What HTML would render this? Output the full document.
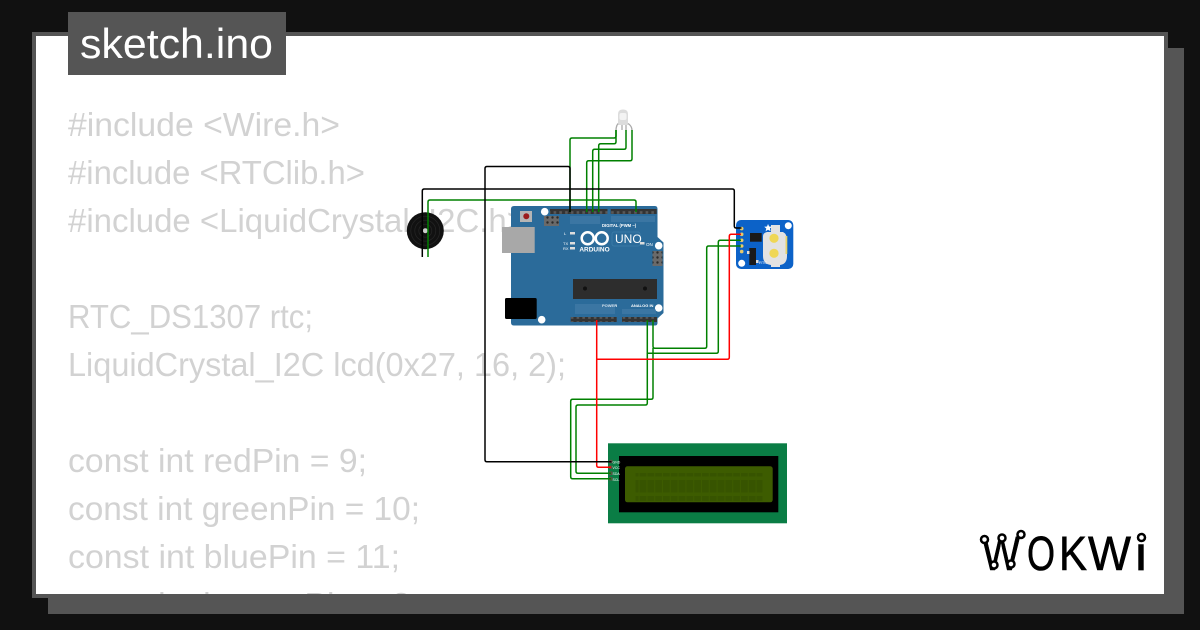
<!DOCTYPE html>
<html>
<head>
<meta charset="utf-8">
<style>
html,body{margin:0;padding:0;width:1200px;height:630px;overflow:hidden;background:#111}
svg{display:block}
.code{font-family:"Liberation Sans",sans-serif;font-size:33.5px;fill:#d2d2d2}
.w{fill:none;stroke-width:1.5;stroke-linejoin:round}
.lb{font-family:"Liberation Sans",sans-serif;fill:#fff}
</style>
</head>
<body>
<svg width="1200" height="630" viewBox="0 0 1200 630" xmlns="http://www.w3.org/2000/svg">
<defs>
<clipPath id="card"><rect x="36" y="36" width="1128" height="558"/></clipPath>
<pattern id="hdr" width="5.75" height="5" patternUnits="userSpaceOnUse"><rect width="5.75" height="5" fill="#333"/><rect x="1.6" y="1.2" width="2.6" height="2.6" fill="#5a5a5a"/></pattern>
<pattern id="p2" width="5" height="5" patternUnits="userSpaceOnUse"><rect width="5" height="5" fill="#6a6a6a"/><circle cx="2.500" cy="2.500" r="1.200" fill="#2b2b2b"/></pattern>
<pattern id="cells" width="7.800" height="16" patternUnits="userSpaceOnUse"><rect x="0" y="0" width="6.800" height="12.500" fill="#375400"/></pattern>
</defs>

<rect x="48" y="48" width="1136" height="566" fill="#555"/>
<rect x="32" y="32" width="1136" height="566" fill="#555"/>
<rect x="36" y="36" width="1128" height="558" fill="#fff"/>

<g clip-path="url(#card)" class="code">
<text x="68" y="136" textLength="272" lengthAdjust="spacingAndGlyphs">#include &lt;Wire.h&gt;</text>
<text x="68" y="184" textLength="297" lengthAdjust="spacingAndGlyphs">#include &lt;RTClib.h&gt;</text>
<text x="68" y="232" textLength="458" lengthAdjust="spacingAndGlyphs">#include &lt;LiquidCrystal_I2C.h&gt;</text>
<text x="68" y="328" textLength="245" lengthAdjust="spacingAndGlyphs">RTC_DS1307 rtc;</text>
<text x="68" y="376" textLength="498" lengthAdjust="spacingAndGlyphs">LiquidCrystal_I2C lcd(0x27, 16, 2);</text>
<text x="68" y="472" textLength="299" lengthAdjust="spacingAndGlyphs">const int redPin = 9;</text>
<text x="68" y="520" textLength="352" lengthAdjust="spacingAndGlyphs">const int greenPin = 10;</text>
<text x="68" y="568" textLength="332" lengthAdjust="spacingAndGlyphs">const int bluePin = 11;</text>
<text x="68" y="616" textLength="352" lengthAdjust="spacingAndGlyphs">const int buzzerPin = 8;</text>
</g>

<rect x="68" y="12" width="218" height="63" fill="#555"/>
<text x="80" y="58" class="lb" font-size="42" textLength="193" lengthAdjust="spacingAndGlyphs">sketch.ino</text>

<!-- Buzzer -->
<circle cx="425.300" cy="230.700" r="18.500" fill="#111"/>
<circle cx="425.300" cy="230.700" r="14.500" fill="none" stroke="#262626" stroke-width=".7"/>
<circle cx="425.300" cy="230.700" r="10.500" fill="none" stroke="#262626" stroke-width=".7"/>
<circle cx="425.300" cy="230.700" r="6.500" fill="none" stroke="#262626" stroke-width=".7"/>
<circle cx="425.300" cy="230.700" r="2.500" fill="#ccc"/>

<!-- Arduino -->
<path d="M514,206 H655 Q657.500,206 657.500,209 V237 L663.500,242.500 V313 L657.500,318.500 V323 Q657.500,325.500 655,325.500 H514 Q511,325.500 511,322.500 V209 Q511,206 514,206 Z" fill="#2b6b9a"/>
<rect x="502" y="227" width="32.700" height="26" fill="#a8a8a8"/>
<rect x="505" y="298" width="31.700" height="21" rx="1.500" fill="#000"/>
<rect x="520" y="211" width="12" height="11" fill="#b5b5b5"/>
<circle cx="526.300" cy="216.300" r="3" fill="#9b1c1c"/>
<circle cx="544.700" cy="211.700" r="3.800" fill="#fff"/>
<circle cx="541.700" cy="319.700" r="3.800" fill="#fff"/>
<circle cx="658.700" cy="245.700" r="3.800" fill="#fff"/>
<circle cx="658.700" cy="308" r="3.800" fill="#fff"/>
<rect x="550" y="209" width="57.500" height="5" fill="url(#hdr)"/>
<rect x="610.700" y="209" width="46" height="5" fill="url(#hdr)"/>
<rect x="570.700" y="317" width="46" height="5" fill="url(#hdr)"/>
<rect x="622" y="317" width="35" height="5" fill="url(#hdr)"/>
<rect x="544" y="216" width="15" height="10" fill="url(#p2)"/>
<rect x="652.500" y="251" width="10" height="15" fill="url(#p2)"/>
<rect x="573" y="279" width="84" height="20" fill="#2d2d2d"/>
<circle cx="585" cy="288.500" r="2" fill="#111"/>
<circle cx="645" cy="288.500" r="2" fill="#111"/>
<circle cx="587.700" cy="238.300" r="6" fill="none" stroke="#fff" stroke-width="2.500"/>
<circle cx="601.700" cy="238.300" r="6" fill="none" stroke="#fff" stroke-width="2.500"/>
<text x="594.500" y="251.500" text-anchor="middle" class="lb" font-size="6.500" font-weight="bold">ARDUINO</text>
<rect x="612" y="232" width="28" height="14" rx="2" fill="none" stroke="#3f80ac" stroke-width=".7"/>
<text x="615" y="243" class="lb" font-size="12">UNO</text>
<text x="646" y="246" class="lb" font-size="4.500">ON</text>
<rect x="640" y="242" width="4.500" height="2.500" fill="#ddd"/>
<rect x="570" y="232" width="5" height="2.500" fill="#ddd"/>
<rect x="570" y="242" width="5" height="2.500" fill="#ddd"/>
<rect x="570" y="247" width="5" height="2.500" fill="#ddd"/>
<text x="564" y="235" class="lb" font-size="4">L</text>
<text x="563" y="245" class="lb" font-size="4">TX</text>
<text x="563" y="250" class="lb" font-size="4">RX</text>
<text x="602" y="227" class="lb" font-size="4.200" font-weight="bold">DIGITAL (PWM ~)</text>
<text x="602" y="307" class="lb" font-size="4" font-weight="bold">POWER</text>
<text x="631" y="307" class="lb" font-size="4" font-weight="bold">ANALOG IN</text>
<rect x="575" y="304" width="40" height="10" fill="#5f93b8" opacity=".3"/>
<rect x="622" y="309" width="34" height="5" fill="#5f93b8" opacity=".3"/>
<rect x="570" y="216" width="30" height="8" fill="#5f93b8" opacity=".3"/>
<rect x="611" y="216" width="44" height="6" fill="#5f93b8" opacity=".3"/>

<!-- RTC -->
<rect x="736" y="220" width="57.300" height="49" rx="5" fill="#0c62c8"/>
<path d="M771,225 h9 v7 h3 q4,2 4,8 v16 q0,8 -7,9 v2 h-9 v-2 q-8,-1 -8,-9 v-20 q0,-3 4,-4 h4 z" fill="#e2e2e2"/>
<rect x="785.500" y="236" width="1.800" height="18" fill="#e8d36a"/>
<circle cx="774" cy="238.300" r="4.600" fill="#efd755"/>
<circle cx="774" cy="253.300" r="4.600" fill="#efd755"/>
<circle cx="788.300" cy="225.700" r="3.500" fill="#fff"/>
<circle cx="741.700" cy="263.300" r="3.500" fill="#fff"/>
<path d="M768,224 l1.200,2.500 2.800,.2 -2.100,1.800 .7,2.700 -2.600,-1.400 -2.400,1.400 .7,-2.700 -2.100,-1.800 2.800,-.2 z" fill="#fff"/>
<rect x="750" y="233" width="11.700" height="8.700" fill="#1a1a1a"/>
<rect x="749.300" y="248" width="6.700" height="17" fill="#1a1a1a"/>
<rect x="747" y="251" width="2.500" height="3" fill="#ddd"/>
<rect x="756" y="260" width="2.500" height="3" fill="#ddd"/>
<text x="759" y="264" class="lb" font-size="4">RTC</text>
<g fill="#e7c96a"><circle cx="741.700" cy="228.600" r="1.800"/><circle cx="741.700" cy="234.300" r="1.800"/><circle cx="741.700" cy="240.300" r="1.800"/><circle cx="741.700" cy="246" r="1.800"/><circle cx="741.700" cy="251.600" r="1.800"/></g>

<!-- LCD -->
<rect x="608" y="443.300" width="179" height="80" fill="#0a7d45"/>
<rect x="619" y="456" width="159.300" height="56.300" fill="#000"/>
<rect x="625" y="466.300" width="147.700" height="36" rx="2.500" fill="#3d5c00"/>
<rect x="635.500" y="473" width="127" height="28" fill="url(#cells)"/>
<g fill="#554"><rect x="609" y="459.800" width="3.500" height="3.500"/><rect x="609" y="465.500" width="3.500" height="3.500"/><rect x="609" y="471.500" width="3.500" height="3.500"/><rect x="609" y="477" width="3.500" height="3.500"/></g>
<g class="lb" font-size="3.500"><text x="612.500" y="463.500">GND</text><text x="612.500" y="469">VCC</text><text x="612.500" y="475">SDA</text><text x="612.500" y="481">SCL</text></g>

<!-- LED -->
<path d="M618,125 V114 Q618,109.500 623,109.500 Q628,109.500 628,114 V125 Z" fill="#dcdcdc"/>
<rect x="619.500" y="113" width="7" height="7" rx="2" fill="#f3f3f3"/>
<path d="M618,123.500 Q616,126 616,130.500 M622,125 V130 M626,125 V130.500 M628,123.500 Q632,126 632,130.500" fill="none" stroke="#aaa" stroke-width="1.300"/>

<!-- Wires -->
<g class="w" stroke="#008000">
<path d="M570,212 V140 Q570,138 572,138 H614 Q616,138 616,136 V130"/>
<path d="M586.700,212 V162.700 Q586.700,160.700 588.700,160.700 H630 Q632,160.700 632,158.700 V130"/>
<path d="M592.700,212 V151.300 Q592.700,149.300 594.700,149.300 H624 Q626,149.300 626,147.300 V130"/>
<path d="M598.700,212 V145.700 Q598.700,143.700 600.700,143.700 H614 Q616,143.700 616,141.700 V130"/>
<path d="M428,257 V202 Q428,200 430,200 H634 Q636,200 636,202 V212"/>
<path d="M647.300,320 V353.300 H716.300 Q718.300,353.300 718.300,351.300 V242.300 Q718.300,240.300 720.300,240.300 H741"/>
<path d="M653,320 V346.300 Q653,348.300 655,348.300 H704.700 Q706.700,348.300 706.700,346.300 V248 Q706.700,246 708.700,246 H741"/>
<path d="M653,348 V397.300 Q653,399.300 651,399.300 H572.700 Q570.700,399.300 570.700,401.300 V476.700 Q570.700,478.700 572.700,478.700 H611"/>
<path d="M647.300,353 V403 Q647.300,405 645.300,405 H578 Q576,405 576,407 V471.300 Q576,473.300 578,473.300 H611"/>
</g>
<g class="w" stroke="#f00">
<path d="M596.700,320 V465.300 Q596.700,467.300 598.700,467.300 H611"/>
<path d="M596.700,359.300 H727.300 Q729.300,359.300 729.300,357.300 V236.300 Q729.300,234.300 731.300,234.300 H741"/>
</g>
<g class="w" stroke="#000">
<path d="M570,212 V168.500 Q570,166.500 568,166.500 H487 Q485,166.500 485,168.500 V459.700 Q485,461.700 487,461.700 H611.500"/>
<path d="M422.300,257 V191 Q422.300,189 424.300,189 H732.300 Q734.300,189 734.300,191 V226 Q734.300,228 736.300,228 H741.500"/>
</g>

<!-- Logo -->
<g font-family="'Liberation Sans',sans-serif" font-size="48" fill="#000" stroke="#000" stroke-width=".6">
<text x="982" y="570" textLength="38" lengthAdjust="spacingAndGlyphs">W</text>
<text x="1027" y="570" textLength="28" lengthAdjust="spacingAndGlyphs">O</text>
<text x="1059" y="570" textLength="28" lengthAdjust="spacingAndGlyphs">K</text>
<text x="1088" y="570" textLength="43" lengthAdjust="spacingAndGlyphs">W</text>
<text x="1135" y="570" textLength="12" lengthAdjust="spacingAndGlyphs">i</text>
</g>
<g fill="#fff" stroke="#000" stroke-width="2.500">
<circle cx="984.500" cy="539.500" r="3.500"/><circle cx="1002" cy="538" r="3.500"/><circle cx="1021" cy="534.500" r="3.500"/><circle cx="994" cy="565" r="3.500"/><circle cx="1011" cy="564" r="3.500"/><circle cx="1141.500" cy="537.500" r="3.500"/>
</g>
</svg>
</body>
</html>
